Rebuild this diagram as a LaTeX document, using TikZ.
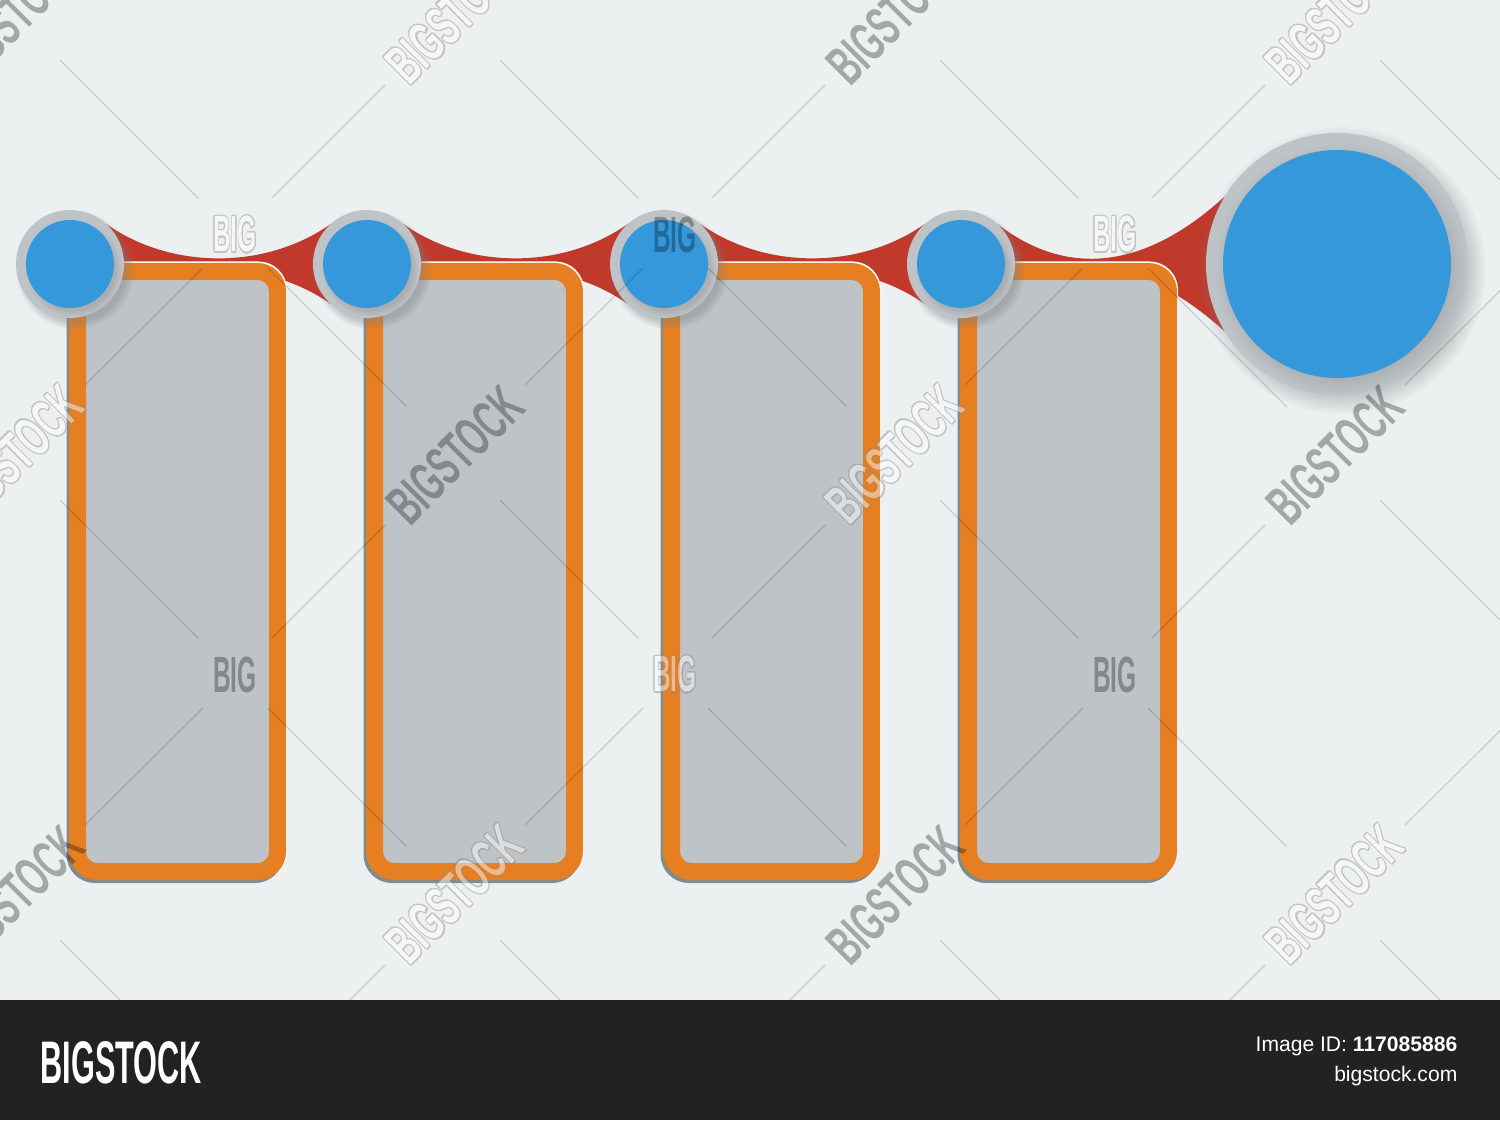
\documentclass[tikz,border=0pt]{standalone}
\usepackage{fontspec}
\setmainfont{Liberation Sans}
\usepackage{graphicx}
\usepackage{contour}
\contourlength{0.4pt}
\usetikzlibrary{positioning,shadows}

\definecolor{clouds}{HTML}{ECF0F1}
\definecolor{silver}{HTML}{BDC3C7}
\definecolor{carrot}{HTML}{E67E22}
\definecolor{peter}{HTML}{3498DB}
\definecolor{brick}{HTML}{C0392B}
\definecolor{asbestos}{HTML}{7F8C8D}
\definecolor{barcol}{HTML}{222222}

\pgfdeclarelayer{back}
\pgfdeclarelayer{band}
\pgfdeclarelayer{card}
\pgfdeclarelayer{front}
\pgfsetlayers{back,band,card,main,front}

\newcommand\hollow[1]{\contour{black!45}{\textcolor{white}{#1}}}

\tikzset{
  ring/.style={circle, fill=silver, inner sep=0pt, outer sep=0pt, minimum size=#1,
    circular drop shadow={shadow xshift=.45mm, shadow yshift=-.55mm, opacity=.4}},
  ring/.default=10.8mm,
  dot/.style={circle, fill=peter, inner sep=0pt, outer sep=0pt, minimum size=#1,
    circular drop shadow={shadow xshift=.3mm, shadow yshift=-.4mm, opacity=.3}},
  dot/.default=8.8mm,
  card/.style={rectangle, draw=carrot, fill=silver, line width=1.7mm, rounded corners=2mm,
    minimum width=20mm, minimum height=60mm, inner sep=0pt, anchor=north west},
  wmline/.style={black, opacity=.15, line width=.12mm},
  wmbig/.style={font=\fontsize{14.5}{16}\selectfont\bfseries},
  wmstock/.style={rotate=45, font=\fontsize{16}{18}\selectfont\bfseries},
}

\begin{document}
\begin{tikzpicture}[x=1mm, y=1mm]
    \useasboundingbox (0,0) rectangle (150,112);
    \begin{pgfonlayer}{back}
        \fill[clouds] (0,12) rectangle (150,112);
        \fill[barcol] (0,0) rectangle (150,12);
    \end{pgfonlayer}

    \node[ring]                         (r1) at (7,85.6) {};
    \node[ring, right=18.9mm of r1]     (r2) {};
    \node[ring, right=18.9mm of r2]     (r3) {};
    \node[ring, right=18.9mm of r3]     (r4) {};
    \node[ring=26.2mm, right=19.1mm of r4] (r5) {};
    \foreach \i in {1,...,4}
        \node[dot] (d\i) at (r\i) {};
    \node[dot=22.8mm] (d5) at (r5) {};

    \begin{pgfonlayer}{card}
    \foreach \i in {1,...,4}{
        \node[card, draw=asbestos, fill=asbestos] at ([shift={(-0.35mm,-0.2mm)}]r\i.center) {};
        \node[card, draw=white, fill=white]       at ([shift={(0mm,0.25mm)}]r\i.center) {};
        \node[card] (b\i) at ([shift={(-0.1mm,0.1mm)}]r\i.center) {};
    }
    \end{pgfonlayer}

    \begin{pgfonlayer}{band}
    \foreach \a/\b in {r1/r2,r2/r3,r3/r4}
        \fill[brick] (\a.48) .. controls +(6.5,-4.6) and +(-6.5,-4.6) .. (\b.132)
            -- (\b.228) .. controls +(-6.5,4.6) and +(6.5,4.6) .. (\a.-48) -- cycle;
    \fill[brick] (r4.48) .. controls +(7,-5.4) and +(-8,-7.3) .. (r5.149)
        -- (r5.211) .. controls +(-8,7.3) and +(7,5.4) .. (r4.-48) -- cycle;
    \end{pgfonlayer}

    % watermark
    \begin{pgfonlayer}{front}
    \begin{scope}
        \clip (0,12) rectangle (150,112);
        \foreach \x in {23.5,67.5,111.5,155.5}
        \foreach \y in {88.5,44.5,0.5}
            \draw[wmline] (\x,\y) ++(-3.6,3.6) -- ++(-13.9,13.9)
                (\x,\y) ++(3.7,3.7) -- ++(11.3,11.3)
                (\x,\y) ++(3.3,-3.3) -- ++(13.9,-13.9)
                (\x,\y) ++(-3.2,-3.3) -- ++(-11.8,-11.7);
        \foreach \i/\x in {0/23.5,1/67.5,2/111.5}
        \foreach \j/\y in {0/88.5,1/44.5}{
            \pgfmathtruncatemacro\odd{mod(\i+\j,2)}
            \ifnum\odd=0
                \begin{scope}[transparency group, opacity=.45]
                \node[wmbig] at (\x,\y) {\scalebox{.48}[1]{\hollow{BIG}}};
                \end{scope}
            \else
                \node[wmbig, text opacity=.3] at (\x,\y) {\scalebox{.48}[1]{BIG}};
            \fi
        }
        \foreach \i/\x in {0/1.5,1/45.5,2/89.5,3/133.5}
        \foreach \j/\y in {0/110.5,1/66.5,2/22.5}{
            \pgfmathtruncatemacro\odd{mod(\i+\j,2)}
            \ifnum\odd=0
                \node[wmstock, text opacity=.3] at (\x,\y) {\scalebox{.56}[1]{BIGSTOCK}};
            \else
                \begin{scope}[transparency group, opacity=.45]
                \node[wmstock] at (\x,\y) {\scalebox{.56}[1]{\hollow{BIGSTOCK}}};
                \end{scope}
            \fi
        }
    \end{scope}
    \end{pgfonlayer}

    \node[anchor=base west, inner sep=0pt, text=white, font=\fontsize{17.1}{19}\selectfont\bfseries]
        (logo) at (4,3.7) {\scalebox{.51}[1]{BIGSTOCK}};
    \node[anchor=base east, inner sep=0pt, text=white, font=\fontsize{6}{7}\selectfont]
        (imgid) at (145.8,6.9) {Image ID: \textbf{117085886}};
    \node[anchor=base east, inner sep=0pt, text=white, font=\fontsize{6}{7}\selectfont]
        (site) at (145.8,3.9) {bigstock.com};
\end{tikzpicture}
\end{document}
